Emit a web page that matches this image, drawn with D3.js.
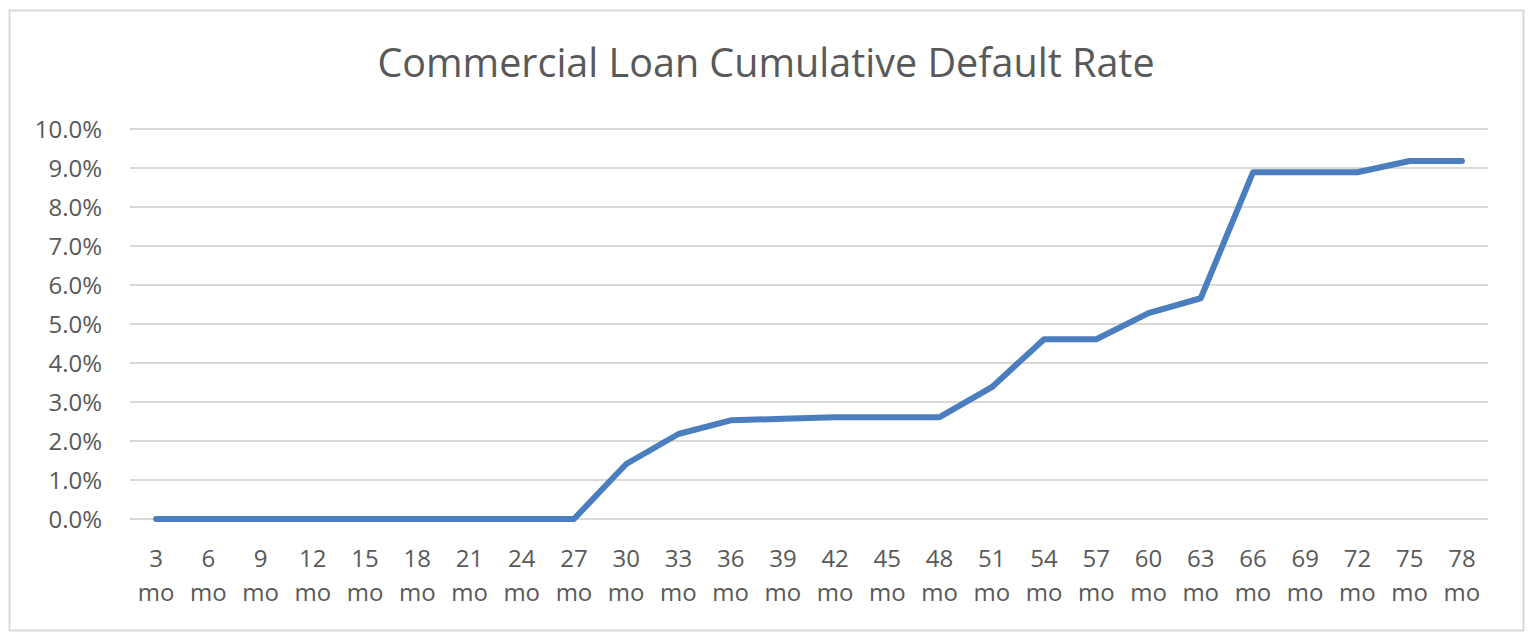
<!DOCTYPE html>
<html><head><meta charset="utf-8">
<script src="https://cdn.jsdelivr.net/npm/d3@7"></script>
<style>body{margin:0;background:#fff;}svg{display:block;font-family:"Open Sans",sans-serif;}</style>
</head><body>
<svg id="c" width="1536" height="642"></svg>
<script>
const months = ["3","6","9","12","15","18","21","24","27","30","33","36","39","42","45","48","51","54","57","60","63","66","69","72","75","78"];
const defaultRate = [0,0,0,0,0,0,0,0,0,1.41,2.18,2.53,2.57,2.61,2.61,2.61,3.38,4.61,4.61,5.28,5.66,8.89,8.89,8.89,9.18,9.18];
const yTicks = [0,1,2,3,4,5,6,7,8,9,10];
const chartTitle = "Commercial Loan Cumulative Default Rate";
(function(){
const svg = d3.select("#c");
svg.append("rect").attr("x",9.5).attr("y",10.5).attr("width",1514).attr("height",620)
  .attr("fill","#fff").attr("stroke","#d9d9d9").attr("stroke-width",2);

const pL=130, pR=1488, pT=129, pB=519;
const x = d3.scalePoint().domain(months).range([pL,pR]).padding(0.5);
const y = d3.scaleLinear().domain([0,10]).range([pB,pT]);

svg.append("text").attr("x",766).attr("y",77).attr("text-anchor","middle")
  .attr("font-size",39.5).attr("fill","#595959").text(chartTitle);

svg.append("g").selectAll("line").data(yTicks).join("line")
  .attr("x1",pL).attr("x2",pR).attr("y1",d=>y(d)).attr("y2",d=>y(d))
  .attr("stroke","#d9d9d9").attr("stroke-width",2);

svg.append("g").selectAll("text").data(yTicks).join("text")
  .attr("x",102).attr("y",d=>y(d)+9).attr("text-anchor","end")
  .attr("font-size",24).attr("fill","#595959").text(d=>d.toFixed(1)+"%");

const xl = svg.append("g").selectAll("text").data(months).join("text")
  .attr("text-anchor","middle").attr("font-size",24).attr("fill","#595959");
xl.append("tspan").attr("x",d=>x(d)).attr("y",567).text(d=>d);
xl.append("tspan").attr("x",d=>x(d)).attr("y",601).text("mo");

const line = d3.line().x((d,i)=>x(months[i])).y(d=>y(d));
svg.append("path").datum(defaultRate).attr("d",line).attr("fill","none")
  .attr("stroke","#4a7ebf").attr("stroke-width",6).attr("stroke-linejoin","round").attr("stroke-linecap","round");
})();
</script>
</body></html>
